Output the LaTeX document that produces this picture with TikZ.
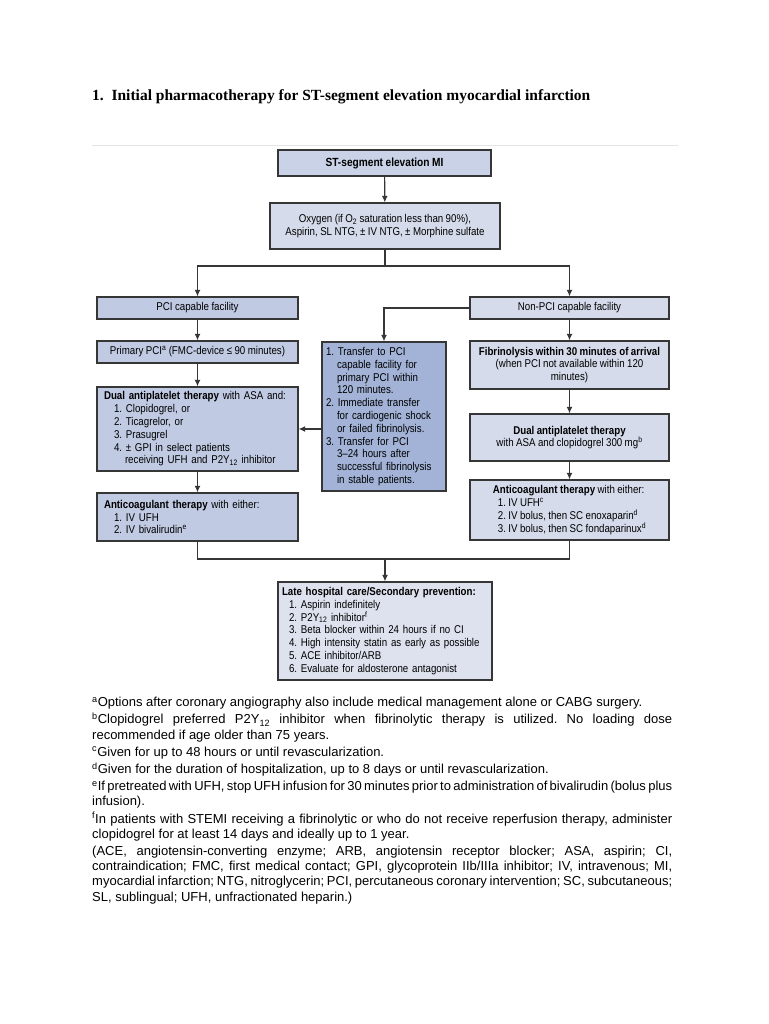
\documentclass[tikz,border=0pt]{standalone}
\usepackage{fontspec}
\setmainfont{Liberation Sans}
\newfontfamily\titlefont{Liberation Serif}
\newfontfamily\boxfont{Liberation Sans}[FakeStretch=0.86, WordSpace=0.9]
\usetikzlibrary{arrows.meta,positioning}
\definecolor{edgegray}{HTML}{363636}
\definecolor{rulegray}{HTML}{E4E4E4}
\definecolor{topblue}{HTML}{C9D2E6}
\definecolor{leftblue}{HTML}{C0CAE2}
\definecolor{rightblue}{HTML}{D5DBEA}
\definecolor{midblue}{HTML}{A2B3D7}
\definecolor{lateblue}{HTML}{DDE2EE}
\tikzset{
  box/.style={draw=edgegray, line width=1.3pt,
    font=\boxfont\fontsize{11.3}{12.8}\selectfont\frenchspacing, inner xsep=4pt, inner ysep=2pt},
  leftbox/.style={box, fill=leftblue, minimum width=201pt},
  rightbox/.style={box, fill=rightblue, minimum width=199pt},
  flow/.style={draw=edgegray, line width=1.2pt,
    -{Latex[length=6.5pt,width=6pt]}},
  link/.style={draw=edgegray, line width=1.2pt}
}
\newcommand{\ind}{\hspace*{10pt}}
\newcommand{\hng}{\hspace*{11pt}}

\begin{document}
\begin{tikzpicture}[x=1pt,y=-1pt]
  \useasboundingbox (0,0) rectangle (768,1024);
  \fill[white] (0,0) rectangle (768,1024);

  \node[anchor=west, inner sep=0pt, font=\titlefont\bfseries\fontsize{15.5}{18}\selectfont]
    (title) at (92,97) {1.\ \ Initial pharmacotherapy for ST-segment elevation myocardial infarction};
  \draw[rulegray, line width=0.8pt] (92,145) -- (678,145);

  % Top of the chart
  \node[box, fill=topblue, minimum width=213pt, minimum height=26pt, font=\boxfont\fontsize{11.8}{12.8}\selectfont\bfseries]
    (stemi) at (384.5,163) {ST-segment elevation MI};
  \node[box, fill=rightblue, minimum width=230pt, minimum height=46pt, align=center]
    (oxy) at (385,226) {Oxygen (if O\textsubscript{2} saturation less than 90\%),\\
    Aspirin, SL NTG, ± IV NTG, ± Morphine sulfate};

  % PCI capable column
  \node[leftbox, minimum height=22pt] (pci) at (197.5,308) {PCI capable facility};
  \node[leftbox, minimum height=22pt] (primary) at (197.5,352)
    {Primary PCI\textsuperscript{a} (FMC-device ≤ 90 minutes)};
  \node[leftbox, minimum height=84pt, text width=187pt, inner xsep=7pt, align=left]
    (dualL) at (197.5,429) {\textbf{Dual antiplatelet therapy} with ASA and:\\
    \ind 1. Clopidogrel, or\\
    \ind 2. Ticagrelor, or\\
    \ind 3. Prasugrel\\
    \ind 4. ± GPI in select patients\\
    \ind\hng receiving UFH and P2Y\textsubscript{12} inhibitor};
  \node[leftbox, minimum height=48pt, text width=187pt, inner xsep=7pt, align=left]
    (antiL) at (197.5,517) {\textbf{Anticoagulant therapy} with either:\\
    \ind 1. IV UFH\\
    \ind 2. IV bivalirudin\textsuperscript{e}};

  % Transfer box
  \node[box, fill=midblue, minimum width=124pt, minimum height=149pt, text width=116pt, align=left]
    (transfer) at (384,416.5) {1. Transfer to PCI\\
    \hng capable facility for\\
    \hng primary PCI within\\
    \hng 120 minutes.\\
    2. Immediate transfer\\
    \hng for cardiogenic shock\\
    \hng or failed fibrinolysis.\\
    3. Transfer for PCI\\
    \hng 3–24 hours after\\
    \hng successful fibrinolysis\\
    \hng in stable patients.};

  % Non-PCI capable column
  \node[rightbox, minimum height=22pt] (nonpci) at (569.5,308) {Non-PCI capable facility};
  \node[rightbox, minimum height=48pt, align=center] (fibrin) at (569.5,365)
    {\textbf{Fibrinolysis within 30 minutes of arrival}\\
    (when PCI not available within 120\\minutes)};
  \node[rightbox, minimum height=47pt, align=center] (dualR) at (569.5,437.5)
    {\textbf{Dual antiplatelet therapy}\\with ASA and clopidogrel 300 mg\textsuperscript{b}};
  \node[rightbox, minimum height=60pt, align=left] (antiR) at (569.5,510)
    {\textbf{Anticoagulant therapy} with either:\\
    \hspace*{5pt}1. IV UFH\textsuperscript{c}\\
    \hspace*{5pt}2. IV bolus, then SC enoxaparin\textsuperscript{d}\\
    \hspace*{5pt}3. IV bolus, then SC fondaparinux\textsuperscript{d}};

  % Late care
  \node[box, fill=lateblue, minimum width=214pt, minimum height=98pt, text width=206pt, align=left]
    (late) at (385,631) {\textbf{Late hospital care/Secondary prevention:}\\
    \hspace*{7pt}1. Aspirin indefinitely\\
    \hspace*{7pt}2. P2Y\textsubscript{12} inhibitor\textsuperscript{f}\\
    \hspace*{7pt}3. Beta blocker within 24 hours if no CI\\
    \hspace*{7pt}4. High intensity statin as early as possible\\
    \hspace*{7pt}5. ACE inhibitor/ARB\\
    \hspace*{7pt}6. Evaluate for aldosterone antagonist};

  % Connectors
  \coordinate (split) at (385,266);
  \coordinate (merge) at (385,559);
  \draw[flow] (stemi) -- (oxy);
  \draw[link] (oxy) -- (split);
  \draw[flow] (split) -| (pci);
  \draw[flow] (split) -| (nonpci);
  \draw[flow] (pci) -- (primary);
  \draw[flow] (primary) -- (dualL);
  \draw[flow] (dualL) -- (antiL);
  \draw[flow] (nonpci) -- (fibrin);
  \draw[flow] (fibrin) -- (dualR);
  \draw[flow] (dualR) -- (antiR);
  \draw[flow] (nonpci.west) -| (transfer.north);
  \draw[flow] (transfer.west |- dualL.east) -- (dualL.east);
  \draw[link] (antiL.south) |- (merge) -| (antiR.south);
  \draw[flow] (merge) -- (late);

  % Footnotes
  \node[anchor=north west, inner sep=0pt, text width=580pt, align=justify,
    font=\fontsize{13}{15.2}\selectfont] (notes) at (92,697) {%
    \frenchspacing\setlength{\parskip}{2pt}\hyphenpenalty=10000
    \spaceskip=0.278em plus 0.3em minus 0.11em
    \textsuperscript{a}Options after coronary angiography also include medical management alone or CABG surgery.\par
    \textsuperscript{b}Clopidogrel preferred P2Y\textsubscript{12} inhibitor when fibrinolytic therapy is utilized. No loading dose\linebreak
    recommended if age older than 75 years.\par
    \textsuperscript{c}Given for up to 48 hours or until revascularization.\par
    \textsuperscript{d}Given for the duration of hospitalization, up to 8 days or until revascularization.\par
    \textsuperscript{e}If pretreated with UFH, stop UFH infusion for 30 minutes prior to administration of bivalirudin (bolus plus\linebreak
    infusion).\par
    \textsuperscript{f}In patients with STEMI receiving a fibrinolytic or who do not receive reperfusion therapy, administer\linebreak
    clopidogrel for at least 14 days and ideally up to 1 year.\par
    (ACE, angiotensin-converting enzyme; ARB, angiotensin receptor blocker; ASA, aspirin; CI,\linebreak
    contraindication; FMC, first medical contact; GPI, glycoprotein IIb/IIIa inhibitor; IV, intravenous; MI,\linebreak
    myocardial infarction; NTG, nitroglycerin; PCI, percutaneous coronary intervention; SC, subcutaneous;\linebreak
    SL, sublingual; UFH, unfractionated heparin.)\par};
\end{tikzpicture}
\end{document}
